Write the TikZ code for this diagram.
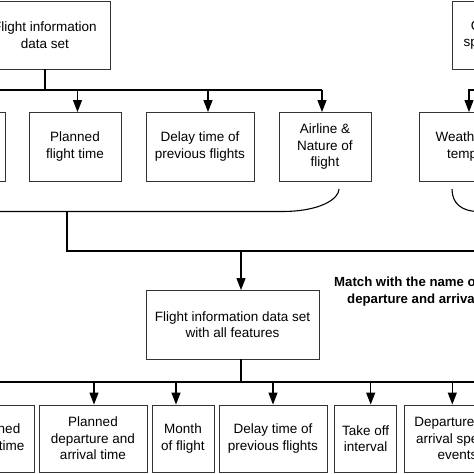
\documentclass[tikz,border=0pt]{standalone}
\usepackage{fontspec}
\setmainfont{Liberation Sans}
\usetikzlibrary{arrows.meta}

\tikzset{
  box/.style={draw=black!80, line width=0.9pt, align=center, inner sep=2pt,
    font=\fontsize{13.5}{16.5}\selectfont, minimum height=68.5pt},
  link/.style={line width=1.1pt},
  note/.style={inner sep=0pt, font=\bfseries\fontsize{13.2}{16.5}\selectfont},
}

\begin{document}
\begin{tikzpicture}[x=1pt,y=-1pt,>={Triangle[width=9pt,length=12pt]}]
		\useasboundingbox (0,0) rectangle (474,474);
		\clip (0,0) rectangle (474,474);
		% source data sets
		\node[box, minimum width=130pt, minimum height=68pt] (src) at (45,35) {Flight information\\data set};
		\node[box, minimum width=139pt, minimum height=68pt] (csrc) at (521.5,35) {City weather and\\special events data};
		% features taken from each data set
		\node[box, minimum width=95pt] (feat0) at (-42.5,146.75) {};
		\node[box, minimum width=92pt] (plan) at (75,146.75) {Planned\\flight time};
		\node[box, minimum width=108pt] (delay) at (200,146.75) {Delay time of\\previous flights};
		\node[box, minimum width=92pt] (airl) at (325,146.75) {Airline \&\\Nature of\\flight};
		\node[box, minimum width=129pt] (wea) at (483.5,146.75) {Weather and air\\temperature};
		% merged data set
		\node[box, minimum width=173pt] (mid) at (232.5,324.75) {Flight information data set\\with all features};
		\node[note, anchor=base west] (match) at (334,286.5) {Match with the name of};
		\node[note, anchor=base west] (match2) at (347,303) {departure and arrival airports};
		% final features
		\node[box, minimum width=77pt, minimum height=67pt] (pft) at (-4.5,438.5) {Planned\\flight time};
		\node[box, minimum width=108pt, minimum height=67pt] (pdat) at (93,438.5) {Planned\\departure and\\arrival time};
		\node[box, minimum width=62pt, minimum height=67pt] (month) at (183,438.5) {Month\\of flight};
		\node[box, minimum width=108pt, minimum height=67pt] (pdel) at (273,438.5) {Delay time of\\previous flights};
		\node[box, minimum width=62pt, minimum height=67pt] (tko) at (365.7,438.5) {Take off\\interval};
		\node[box, minimum width=106pt, minimum height=67pt] (spev) at (457.5,438.5) {Departure and\\arrival special\\events};

		% split of the flight data set
		\coordinate (bus) at (45,90);
		\coordinate (busL) at (-100,90);
		\coordinate (busR) at (322,90);
		\draw[link] (src.south) -- (bus);
		\draw[link] (busL) -- (busR);
		\draw[link,->] (plan.north) ++(2.5,-22.5) -- ++(0,22.5);
		\draw[link,->] (delay.north) ++(8,-22.5) -- ++(0,22.5);
		\draw[link,->] (airl.north) ++(-3,-22.5) -- ++(0,22.5);
		% split of the city data set
		\coordinate (cbus) at (csrc.south |- bus);
		\draw[link] (csrc.south) -- (cbus);
		\draw[link,->] (cbus) -| ([xshift=-14.5pt]wea.north);

		% braces under both groups
		\coordinate (gL) at (-100,211.5);
		\coordinate (gR) at (600,211.5);
		\draw[link] (339,189) .. controls (339,199) and (320,211.5) .. (282,211.5) -- (gL);
		\draw[link] (452,189) .. controls (452,203) and (461,211.5) .. (479,211.5) -- (gR);
		\coordinate (jL) at (67,211.5);
		\coordinate (jB) at (67,251);
		\coordinate (jR) at (600,251);
		\draw[link] (jL) -- (jB) -- (jR);
		\coordinate (mbus) at (241,251);
		\draw[link,->] (mbus) -- (mbus |- mid.north);

		% split of the merged data set
		\coordinate (fbus) at (241,382);
		\coordinate (fbusL) at (-100,382);
		\coordinate (fbusR) at (600,382);
		\draw[link] (mbus |- mid.south) -- (fbus);
		\draw[link] (fbusL) -- (fbusR);
		\draw[link,->] (pdat.north) ++(1,-23) -- ++(0,23);
		\draw[link,->] (month.north) ++(-7,-23) -- ++(0,23);
		\draw[link,->] (pdel.north) ++(0,-23) -- ++(0,23);
		\draw[link,->] (tko.north) ++(5,-23) -- ++(0,23);
		\draw[link,->] (spev.north) ++(-5.2,-23) -- ++(0,23);
\end{tikzpicture}
\end{document}
